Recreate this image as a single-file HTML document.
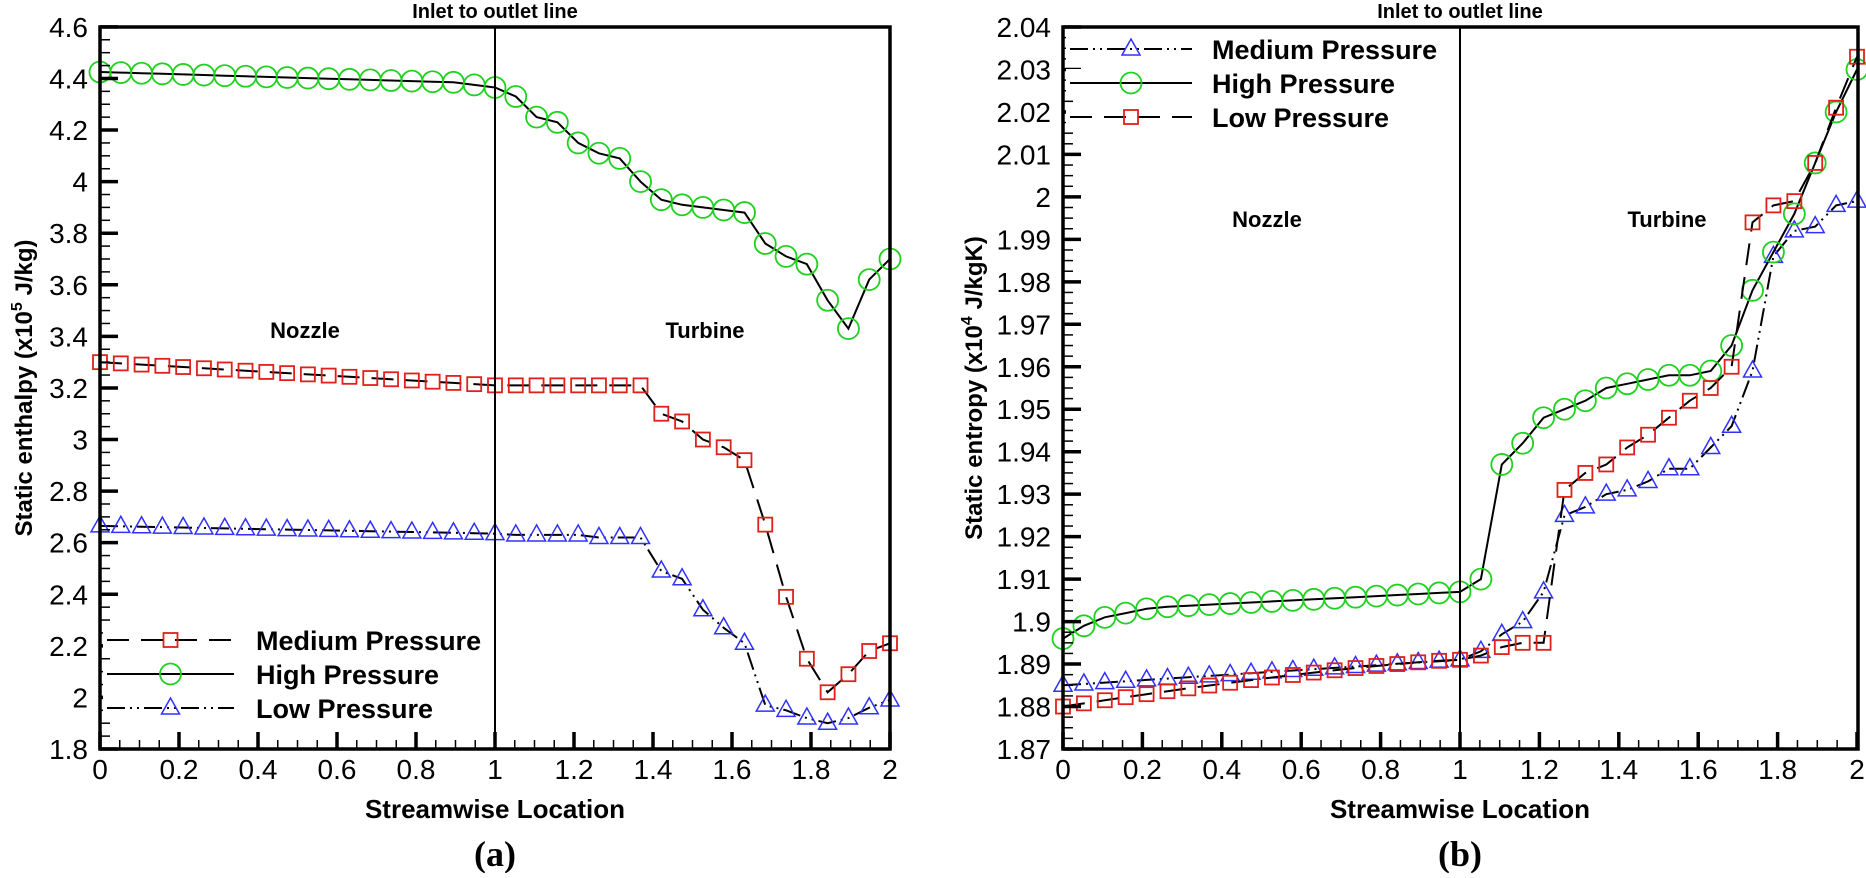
<!DOCTYPE html>
<html><head><meta charset="utf-8"><style>
body{margin:0;background:#fff;width:1866px;height:873px;overflow:hidden}
svg text{font-family:"Liberation Sans",Arial,sans-serif}
</style></head><body>
<svg id="s" width="1866" height="873" xmlns="http://www.w3.org/2000/svg"></svg>
<script>
const S=document.getElementById('s');let out='';
function plot(o){
 const X=v=>o.x0+v*o.sx, Y=v=>o.yb-(v-o.ymin)*o.sy;
 let g='';
 o.series.forEach(se=>{
  let pts=se.d.map(p=>X(p[0]).toFixed(1)+','+Y(p[1]).toFixed(1)).join(' ');
  g+=`<polyline points="${pts}" fill="none" stroke="#000" stroke-width="2" ${se.dash?`stroke-dasharray="${se.dash}"`:''}/>`;
  se.d.forEach(p=>{g+=marker(se.m,X(p[0]),Y(p[1]));});
 });
 g+=`<rect x="${o.x0}" y="${o.yt}" width="${o.x1-o.x0}" height="${o.yb-o.yt}" fill="none" stroke="#000" stroke-width="3.5"/>`;
 g+=`<line x1="${X(1)}" y1="${o.yt}" x2="${X(1)}" y2="${o.yb}" stroke="#000" stroke-width="2"/>`;
 for(let i=0;i<=40;i++){const v=i*0.05,x=X(v),maj=i%4==0;
  g+=`<line x1="${x}" y1="${o.yb}" x2="${x}" y2="${o.yb-(maj?17:9)}" stroke="#000" stroke-width="${maj?3.5:1.5}"/>`;
  if(maj)g+=`<text x="${x}" y="${o.yb+30}" font-size="28" text-anchor="middle">${+v.toFixed(1)}</text>`;}
 const n=Math.round((o.ymax-o.ymin)/o.minor);
 for(let i=0;i<=n;i++){const v=o.ymin+i*o.minor,y=Y(v),maj=i%o.per==0;
  g+=`<line x1="${o.x0}" y1="${y}" x2="${o.x0+(maj?18:10)}" y2="${y}" stroke="#000" stroke-width="${maj?3.5:1.5}"/>`;
  if(maj)g+=`<text x="${o.x0-12}" y="${y+10}" font-size="28" text-anchor="end">${+v.toFixed(o.dec)}</text>`;}
 g+=`<text x="${X(1)}" y="18" font-size="20" font-weight="bold" text-anchor="middle">Inlet to outlet line</text>`;
 g+=`<text x="${X(1)}" y="818" font-size="26" font-weight="bold" text-anchor="middle">Streamwise Location</text>`;
 g+=`<text x="${X(1)}" y="866" font-size="36" font-weight="bold" text-anchor="middle" style="font-family:'Liberation Serif',serif">${o.lab}</text>`;
 g+=`<text transform="translate(${o.ytx},388) rotate(-90)" font-size="24" font-weight="bold" text-anchor="middle">${o.ytitle}</text>`;
 g+=`<text x="${o.noz[0]}" y="${o.noz[1]}" font-size="22" font-weight="bold" text-anchor="middle">Nozzle</text>`;
 g+=`<text x="${o.tur[0]}" y="${o.tur[1]}" font-size="22" font-weight="bold" text-anchor="middle">Turbine</text>`;
 o.leg.forEach(l=>{
  g+=`<rect x="${o.lx0-4}" y="${l.y-14}" width="${o.lx1-o.lx0+8}" height="28" fill="#fff"/>`;
  g+=`<line x1="${o.lx0}" y1="${l.y}" x2="${o.lx1}" y2="${l.y}" stroke="#000" stroke-width="2" ${l.dash?`stroke-dasharray="${l.dash}"`:''}/>`;
  g+=marker(l.m,(o.lx0+o.lx1)/2,l.y);
  g+=`<text x="${o.lt}" y="${l.y+10}" font-size="27" font-weight="bold">${l.t}</text>`;
 });
 out+=g;
}
function marker(m,x,y){
 if(m=='c')return `<circle cx="${x}" cy="${y}" r="10.5" fill="none" stroke="#1fd11f" stroke-width="1.8"/>`;
 if(m=='s')return `<rect x="${x-7}" y="${y-7}" width="14" height="14" fill="none" stroke="#e0201a" stroke-width="1.8"/>`;
 return `<polygon points="${x},${y-10} ${x-9},${y+6} ${x+9},${y+6}" fill="none" stroke="#3030ff" stroke-width="1.5"/>`;
}
function lin(a,b,x0,x1,n){const r=[];for(let i=0;i<=n;i++){const t=i/n;r.push([x0+(x1-x0)*t,a+(b-a)*t]);}return r;}
const st=1/19;
function tail(arr){return arr.map((v,i)=>[Math.min(2,1+st*(i+1)),v]);}
// Left
const hiL=lin(4.425,4.385,0,17*st,17).concat([[18*st,4.375],[1,4.365]]).concat(tail([4.33,4.25,4.23,4.15,4.11,4.09,4.0,3.93,3.91,3.90,3.89,3.88,3.76,3.71,3.68,3.54,3.43,3.62,3.70]));
const meL=lin(3.30,3.21,0,1,19).concat(tail([3.21,3.21,3.21,3.21,3.21,3.21,3.21,3.10,3.07,3.00,2.97,2.92,2.67,2.39,2.15,2.02,2.09,2.18,2.21]));
const loL=lin(2.665,2.635,0,1,19).concat(tail([2.63,2.63,2.63,2.63,2.62,2.62,2.62,2.49,2.46,2.34,2.27,2.21,1.97,1.95,1.92,1.90,1.92,1.96,1.99]));
plot({x0:100,x1:890,sx:395,yt:27,yb:749,ymin:1.8,ymax:4.6,sy:257.9,minor:0.05,per:4,dec:1,lab:'(a)',ytx:32,
 ytitle:'Static enthalpy (x10<tspan font-size="16" dy="-10">5</tspan><tspan dy="10"> J/kg)</tspan>',
 noz:[305,338],tur:[705,338],lx0:107,lx1:234,lt:256,
 series:[{d:meL,m:'s',dash:'22 12'},{d:hiL,m:'c'},{d:loL,m:'t',dash:'18 5 2 5 2 5'}],
 leg:[{y:640,m:'s',dash:'22 12',t:'Medium Pressure'},{y:674,m:'c',t:'High Pressure'},{y:708,m:'t',dash:'18 5 2 5 2 5',t:'Low Pressure'}]});
// Right
function nz(a,b,c){const r=[];for(let i=0;i<=19;i++){const t=i/19;r.push([t,a+(b-a)*(1-Math.pow(1-t,c))]);}return r;}
const hiR=[[0,1.896],[st,1.899],[2*st,1.901],[3*st,1.902],[4*st,1.903]].concat(lin(1.9035,1.907,5*st,1,14)).concat(tail([1.910,1.937,1.942,1.948,1.950,1.952,1.955,1.956,1.957,1.958,1.958,1.959,1.965,1.978,1.987,1.996,2.008,2.020,2.030]));
const meR=lin(1.885,1.891,0,1,19).concat(tail([1.893,1.897,1.900,1.907,1.925,1.927,1.930,1.931,1.933,1.936,1.936,1.941,1.946,1.959,1.986,1.992,1.993,1.998,1.999]));
const loR=nz(1.880,1.891,1.3).concat(tail([1.892,1.894,1.895,1.895,1.931,1.935,1.937,1.941,1.944,1.948,1.952,1.955,1.960,1.994,1.998,1.999,2.008,2.021,2.033]));
plot({x0:1063,x1:1858,sx:397,yt:27,yb:749,ymin:1.87,ymax:2.04,sy:4247,minor:0.0025,per:4,dec:2,lab:'(b)',ytx:982,
 ytitle:'Static entropy (x10<tspan font-size="16" dy="-10">4</tspan><tspan dy="10"> J/kgK)</tspan>',
 noz:[1267,227],tur:[1667,227],lx0:1070,lx1:1192,lt:1212,
 series:[{d:meR,m:'t',dash:'18 5 2 5 2 5'},{d:hiR,m:'c'},{d:loR,m:'s',dash:'22 12'}],
 leg:[{y:49,m:'t',dash:'18 5 2 5 2 5',t:'Medium Pressure'},{y:83,m:'c',t:'High Pressure'},{y:117,m:'s',dash:'22 12',t:'Low Pressure'}]});
S.innerHTML=out;
</script>
</body></html>
